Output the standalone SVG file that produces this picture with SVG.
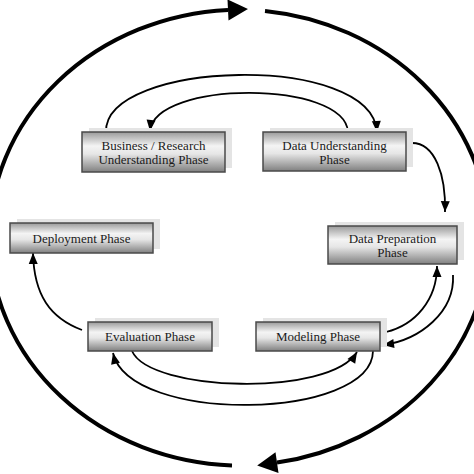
<svg xmlns="http://www.w3.org/2000/svg" width="474" height="474" viewBox="0 0 474 474">
<defs>
<linearGradient id="metal" x1="0" y1="0" x2="0" y2="1">
<stop offset="0" stop-color="#9a9a9a"/>
<stop offset="0.35" stop-color="#f4f4f4"/>
<stop offset="0.55" stop-color="#e6e6e6"/>
<stop offset="1" stop-color="#808080"/>
</linearGradient>
<marker id="big" markerUnits="userSpaceOnUse" markerWidth="20" markerHeight="21" refX="0" refY="10.5" orient="auto" overflow="visible">
<path d="M0,0 L20,10.5 L0,21 z" fill="#000"/>
</marker>
<marker id="ah" markerUnits="userSpaceOnUse" markerWidth="11" markerHeight="9" refX="11" refY="4.5" orient="auto" overflow="visible">
<path d="M0,0 L11,4.5 L0,9 z" fill="#000"/>
</marker>
</defs>
<style>
.shadow{fill:#e4e4e4}
.box{fill:url(#metal);stroke:#4a4a4a;stroke-width:1.5}
.lbl{font-family:"Liberation Serif","Times New Roman",serif;font-size:13px;fill:#1a1a1a;text-anchor:middle}
.ring{fill:none;stroke:#000;stroke-width:4}
.conn{fill:none;stroke:#000;stroke-width:1.8}
</style>
<rect width="474" height="474" fill="#fff"/>
<g id="cycle">
<path class="ring" d="M265 10.9 A252 228 0 0 1 277 462.6" marker-end="url(#big)"/>
<path class="ring" d="M232 465.4 A252 228 0 0 1 228 9.9" marker-end="url(#big)"/>
</g>
<g id="connectors">
<path class="conn" d="M106 132 C104 60, 372 52, 377 132" marker-end="url(#ah)"/>
<path class="conn" d="M348 132 C345 80, 155 80, 150 131" marker-end="url(#ah)"/>
<path class="conn" d="M412 143 C435 143, 446 175, 445 212" marker-end="url(#ah)"/>
<path class="conn" d="M386 332 C415 325, 437 300, 437 266" marker-end="url(#ah)"/>
<path class="conn" d="M453 275 C455 312, 420 340, 383 345" marker-end="url(#ah)"/>
<path class="conn" d="M132 351 C150 392, 330 397, 357 352" marker-end="url(#ah)"/>
<path class="conn" d="M373 351 C372 420, 130 425, 113 353" marker-end="url(#ah)"/>
<path class="conn" d="M82 330 C50 318, 34 295, 33 253" marker-end="url(#ah)"/>
</g>
<g id="business">
<rect class="shadow" x="89" y="128" width="143" height="40"/>
<rect class="box" x="82" y="132" width="143" height="40"/>
<text class="lbl" x="153.5" y="150">Business / Research</text>
<text class="lbl" x="153.5" y="164">Understanding Phase</text>
</g>
<g id="data-understanding">
<rect class="shadow" x="270" y="128" width="143" height="39"/>
<rect class="box" x="263" y="132" width="143" height="39"/>
<text class="lbl" x="334.5" y="150">Data Understanding</text>
<text class="lbl" x="334.5" y="164">Phase</text>
</g>
<g id="deployment">
<rect class="shadow" x="17" y="219" width="143" height="30"/>
<rect class="box" x="10" y="223" width="143" height="30"/>
<text class="lbl" x="81.5" y="243">Deployment Phase</text>
</g>
<g id="data-preparation">
<rect class="shadow" x="335" y="222" width="129" height="38"/>
<rect class="box" x="328" y="226" width="129" height="38"/>
<text class="lbl" x="392.5" y="243">Data Preparation</text>
<text class="lbl" x="392.5" y="257">Phase</text>
</g>
<g id="evaluation">
<rect class="shadow" x="95" y="318" width="124" height="29"/>
<rect class="box" x="88" y="322" width="124" height="29"/>
<text class="lbl" x="150" y="341">Evaluation Phase</text>
</g>
<g id="modeling">
<rect class="shadow" x="263" y="318" width="124" height="29"/>
<rect class="box" x="256" y="322" width="124" height="29"/>
<text class="lbl" x="318" y="341">Modeling Phase</text>
</g>
</svg>
